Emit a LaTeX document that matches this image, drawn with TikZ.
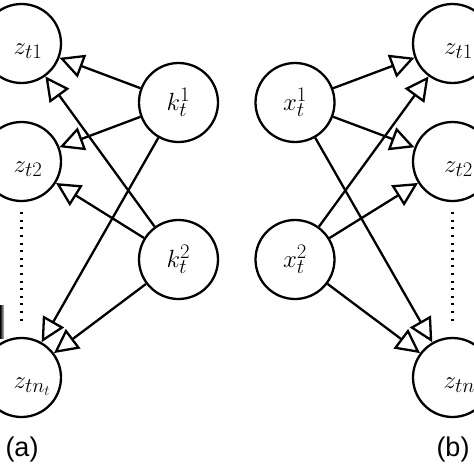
\documentclass[tikz,border=0pt]{standalone}
\usepackage{fontspec}
\newfontfamily\labfont{Liberation Sans}
\usetikzlibrary{arrows.meta}
\begin{document}
\begin{tikzpicture}[x=1pt,y=-1pt,
  vnode/.style={circle, draw, line width=2.3pt, minimum size=79pt, inner sep=0pt, font=\fontsize{31}{35}\selectfont},
  ztext/.style={anchor=base west, inner sep=0pt, font=\fontsize{31}{35}\selectfont},
  edge/.style={line width=2.3pt, -{Triangle[open, length=24pt, width=24pt]}},
  dotline/.style={line width=2.3pt, dash pattern=on 2pt off 5.6pt},
  panellab/.style={inner sep=0pt, font=\labfont\fontsize{27}{31}\selectfont}]
\useasboundingbox (0,0) rectangle (474,474);
\clip (0,0) rectangle (474,474);
% left panel
\node[vnode] (zL1) at (21.5,43.5) {};
\node[vnode] (zL2) at (21.5,161.5) {};
\node[vnode] (zLn) at (21.5,377.5) {};
\node[ztext] (zL1t) at ([xshift=-8pt,yshift=-10.5pt]zL1.center) {$z_{t1}$};
\node[ztext] (zL2t) at ([xshift=-8pt,yshift=-10.5pt]zL2.center) {$z_{t2}$};
\node[ztext] (zLnt) at ([xshift=-8pt,yshift=-11pt]zLn.center) {$z_{tn_t}$};
\node[vnode] (k1) at (178.5,102.5) {$k_t^1$};
\node[vnode] (k2) at (178.5,259.5) {$k_t^2$};
\draw[edge] (k1) -- (zL1);
\draw[edge] (k1) -- (zL2);
\draw[edge] (k1) -- (zLn);
\draw[edge] (k2) -- (zL1);
\draw[edge] (k2) -- (zL2);
\draw[edge] (k2) -- (zLn);
\draw[dotline] ([yshift=-10pt]zL2.south) -- ([yshift=13pt]zLn.north);
% right panel
\node[vnode] (zR1) at (452.5,43.5) {};
\node[vnode] (zR2) at (452.5,161.5) {};
\node[vnode] (zRn) at (452.5,377.5) {};
\node[ztext] (zR1t) at ([xshift=-8.5pt,yshift=-10.5pt]zR1.center) {$z_{t1}$};
\node[ztext] (zR2t) at ([xshift=-8.5pt,yshift=-10.5pt]zR2.center) {$z_{t2}$};
\node[ztext] (zRnt) at ([xshift=-9pt,yshift=-11pt]zRn.center) {$z_{tn_t}$};
\node[vnode] (x1) at (295,102.5) {$x_t^1$};
\node[vnode] (x2) at (295,259.5) {$x_t^2$};
\draw[edge] (x1) -- (zR1);
\draw[edge] (x1) -- (zR2);
\draw[edge] (x1) -- (zRn);
\draw[edge] (x2) -- (zR1);
\draw[edge] (x2) -- (zR2);
\draw[edge] (x2) -- (zRn);
\draw[dotline] ([yshift=-10pt]zR2.south) -- ([yshift=13pt]zRn.north);
% fragment at left edge
\shade[left color=black, right color=gray!40] (0,305) rectangle (4,338);
% panel labels
\node[panellab] (la) at (22,450) {(a)};
\node[panellab] (lb) at (453,450) {(b)};
\end{tikzpicture}
\end{document}
